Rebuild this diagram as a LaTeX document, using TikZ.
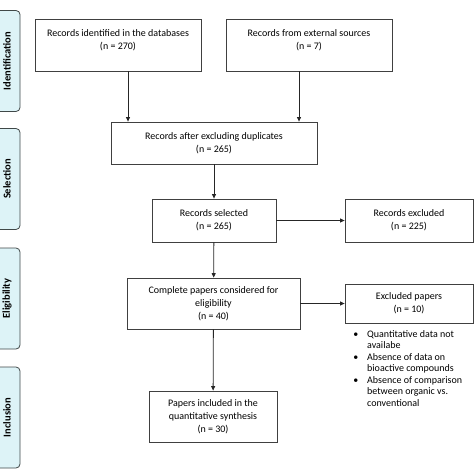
\documentclass[tikz,border=0pt]{standalone}
\usepackage{fontspec}
\setmainfont{Carlito}
\usetikzlibrary{arrows.meta}
\definecolor{phasefill}{HTML}{DDF3F7}
\definecolor{phasedraw}{HTML}{404848}
\begin{document}
\begin{tikzpicture}[x=1pt,y=-1pt,
  box/.style={draw=black!75,line width=0.8pt,fill=white,align=center,inner sep=2pt,
    font=\fontsize{10}{13}\selectfont},
  phase/.style={draw=phasedraw,line width=0.8pt,fill=phasefill,rounded corners=4pt,
    minimum width=101pt,minimum height=26pt,rotate=90,
    font=\bfseries\fontsize{10.5}{12}\selectfont},
  arr/.style={-{Triangle[length=4.5pt,width=4pt]},line width=0.8pt,draw=black!85}]
\useasboundingbox (0,0) rectangle (474,474);
% phase labels
\node[phase] (ph1) at (7,61) {Identification};
\node[phase] (ph2) at (7,179) {Selection};
\node[phase] (ph3) at (7,298.5) {Eligibility};
\node[phase] (ph4) at (7,417.5) {Inclusion};
% boxes
\node[box,minimum width=166pt,minimum height=52pt,text depth=10pt] (b1) at (118,45)
  {Records identified in the databases\\(n = 270)};
\node[box,minimum width=166pt,minimum height=52pt,text depth=10pt] (b2) at (309,45)
  {Records from external sources\\(n = 7)};
\node[box,minimum width=206pt,minimum height=42pt] (b3) at (214,143)
  {Records after excluding duplicates\\(n = 265)};
\node[box,minimum width=124pt,minimum height=43pt] (b4) at (214,220.5)
  {Records selected\\(n = 265)};
\node[box,minimum width=128pt,minimum height=43pt] (b5) at (409,220.5)
  {Records excluded\\(n = 225)};
\node[box,minimum width=173pt,minimum height=51pt] (b6) at (213.5,303.5)
  {Complete papers considered for\\eligibility\\(n = 40)};
\node[box,minimum width=128pt,minimum height=39pt] (b7) at (409,303.5)
  {Excluded papers\\(n = 10)};
\node[box,minimum width=128pt,minimum height=51pt] (b8) at (213,416.5)
  {Papers included in the\\quantitative synthesis\\(n = 30)};
% reasons
\node[anchor=north west,align=left,inner sep=0pt,font=\fontsize{10}{11.5}\selectfont] (rs) at (351,330)
  {\makebox[16pt][l]{\ \textbullet}Quantitative data not\\
   \hspace*{16pt}availabe\\
   \makebox[16pt][l]{\ \textbullet}Absence of data on\\
   \hspace*{16pt}bioactive compounds\\
   \makebox[16pt][l]{\ \textbullet}Absence of comparison\\
   \hspace*{16pt}between organic vs.\\
   \hspace*{16pt}conventional};
% arrows
\draw[arr] (b1.south -| 128,0) -- (b3.north -| 128,0);
\draw[arr] (b2.south -| 299,0) -- (b3.north -| 299,0);
\draw[arr] (b3) -- (b4);
\draw[arr] (b4) -- (b5);
\draw[arr] (b4) -- (b6);
\draw[arr] (b6.east) -- (b7.west |- b6.east);
\draw[arr] (b6) -- (b8);
\end{tikzpicture}
\end{document}
